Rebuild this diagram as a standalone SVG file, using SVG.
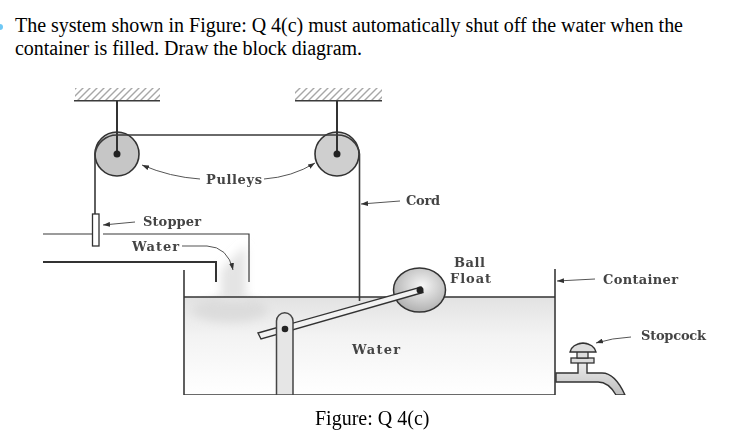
<svg xmlns="http://www.w3.org/2000/svg" width="750" height="433" viewBox="0 0 750 433">
<style>
.h{font-family:"Liberation Serif","Times New Roman",serif;font-size:20px;fill:#000}
.l{font-family:"DejaVu Serif",serif;font-size:13px;font-weight:bold;fill:#444}
.k{fill:none;stroke:#3a3a3a;stroke-width:1.6}
.t{fill:none;stroke:#555;stroke-width:1}
</style>
<defs>
<linearGradient id="w" x1="0" y1="0" x2="0" y2="1"><stop offset="0" stop-color="#e2e2e2"/><stop offset="0.4" stop-color="#f3f3f3"/><stop offset="1" stop-color="#fff"/></linearGradient>
<linearGradient id="f" x1="0" y1="0" x2="0" y2="1"><stop offset="0" stop-color="#f0f0f0"/><stop offset="1" stop-color="#bdbdbd"/></linearGradient>
<radialGradient id="b" cx="0.55" cy="0.4" r="0.75"><stop offset="0" stop-color="#f6f6f6"/><stop offset="1" stop-color="#a0a0a0"/></radialGradient>
<pattern id="hp" width="7" height="12" patternUnits="userSpaceOnUse" patternTransform="skewX(-45)"><line x1="3" y1="0" x2="3" y2="12" stroke="#777" stroke-width="1.3"/></pattern>
<filter id="s" x="-30%" y="-30%" width="160%" height="160%"><feGaussianBlur stdDeviation="5"/></filter>
<filter id="soft" x="0" y="0" width="100%" height="100%"><feGaussianBlur stdDeviation="0.4"/></filter>
<marker id="ah" viewBox="0 0 7 5" refX="7" refY="2.5" markerWidth="7" markerHeight="5" orient="auto" markerUnits="userSpaceOnUse"><path d="M0 0L7 2.500L0 5Z" fill="#333"/></marker>
</defs>
<rect width="750" height="433" fill="#fff"/>
<circle cx="0" cy="27" r="3" fill="#6fc8f5"/>
<text class="h" x="15" y="32" textLength="668" lengthAdjust="spacing">The system shown in Figure: Q 4(c) must automatically shut off the water when the</text>
<text class="h" x="15" y="55" textLength="347" lengthAdjust="spacing">container is filled. Draw the block diagram.</text>
<g filter="url(#soft)">
<g id="water-body">
<rect x="185" y="297" width="369" height="97" fill="url(#w)"/>
<ellipse cx="230" cy="310" rx="38" ry="12" fill="#dcdcdc" filter="url(#s)"/>
<path d="M221 297L221 270L246 245L246 297L254 301L214 301Z" fill="#e4e4e4" filter="url(#s)"/>
</g>
<g id="ceiling-left"><rect x="75" y="88" width="85" height="12" fill="url(#hp)"/><line class="k" x1="74" y1="100.700" x2="160" y2="100.700"/></g>
<g id="ceiling-right"><rect x="295" y="88" width="87" height="12" fill="url(#hp)"/><line class="k" x1="295" y1="100.700" x2="382" y2="100.700"/></g>
<g id="pulley-left"><circle cx="117" cy="154" r="22" fill="#c6c6c6" stroke="#333" stroke-width="1.600"/><line x1="117" y1="101" x2="117" y2="154" stroke="#333" stroke-width="2"/><circle cx="117" cy="154" r="3.500" fill="#222"/></g>
<g id="pulley-right"><circle cx="337" cy="154" r="22" fill="#cfcfcf" stroke="#333" stroke-width="1.600"/><line x1="337" y1="101" x2="337" y2="154" stroke="#333" stroke-width="2"/><circle cx="337" cy="154" r="3.500" fill="#222"/></g>
<g id="cord"><path class="k" d="M95 214V154A22 22 0 0 1 117 135H337A22 22 0 0 1 359.500 154V301"/></g>
<g id="pipe">
<path fill="none" stroke="#3a3a3a" stroke-width="1.200" d="M43 234H92M103 234H249V282"/>
<path d="M43 262H216V282" fill="none" stroke="#333" stroke-width="2"/>
</g>
<g id="stopper"><rect x="92.500" y="214" width="6.500" height="32" fill="#fff" stroke="#333" stroke-width="1.300"/></g>
<g id="container">
<path class="k" d="M184 270V395H555V269"/>
<line x1="184" y1="297" x2="555" y2="297" stroke="#333" stroke-width="1.400"/>
</g>
<g id="float"><ellipse cx="419.500" cy="290" rx="26" ry="22" fill="url(#b)" stroke="#333" stroke-width="1.500"/></g>
<g id="lever"><path d="M258 333L421 287L423 292.500L261 339Z" fill="#f2f2f2" stroke="#333" stroke-width="1.400"/><circle cx="420" cy="290" r="3.500" fill="#222"/></g>
<g id="post"><path d="M276.500 395V321A8.250 8.250 0 0 1 293 321V395Z" fill="#e6e6e6" stroke="#444" stroke-width="1.500"/><circle cx="285" cy="329" r="3.300" fill="#222"/></g>
<g id="stopcock">
<path d="M556 373H578V360H587V373H602C613 373 620 384 625 395H616C612 388 607 382 598 382H556Z" fill="url(#f)" stroke="#333" stroke-width="1.400"/>
<rect x="571" y="358" width="23" height="5" fill="#ddd" stroke="#333" stroke-width="1.300"/>
<rect x="577" y="351" width="11" height="7" fill="#ddd" stroke="#333" stroke-width="1.300"/>
<path d="M570 352Q572 344 583 343Q594 344 596 352Z" fill="#ddd" stroke="#333" stroke-width="1.300"/>
</g>
<g id="connectors">
<path class="t" d="M200 179Q170 177 142 165" marker-end="url(#ah)"/>
<path class="t" d="M264 179Q292 177 315 163" marker-end="url(#ah)"/>
<path class="t" d="M400 201L361 204" marker-end="url(#ah)"/>
<path class="t" d="M135 222L103 225" marker-end="url(#ah)"/>
<path class="t" d="M182 246H207Q228 247 233 270" marker-end="url(#ah)"/>
<path class="t" d="M595 279L557 281" marker-end="url(#ah)"/>
<path class="t" d="M631 337Q612 338 596 343" marker-end="url(#ah)"/>
</g>
</g>
<g id="labels">
<text class="l" x="206" y="184" textLength="56">Pulleys</text>
<text class="l" x="406" y="205" textLength="34">Cord</text>
<text class="l" x="143" y="226" textLength="58">Stopper</text>
<text class="l" x="132" y="251" textLength="47">Water</text>
<text class="l" x="454" y="267" textLength="31">Ball</text>
<text class="l" x="450" y="283" textLength="41">Float</text>
<text class="l" x="603" y="284" textLength="75">Container</text>
<text class="l" x="641" y="340" textLength="65">Stopcock</text>
<text class="l" x="352" y="354" textLength="48">Water</text>
</g>
<text class="h" x="315" y="425">Figure: Q 4(c)</text>
</svg>
